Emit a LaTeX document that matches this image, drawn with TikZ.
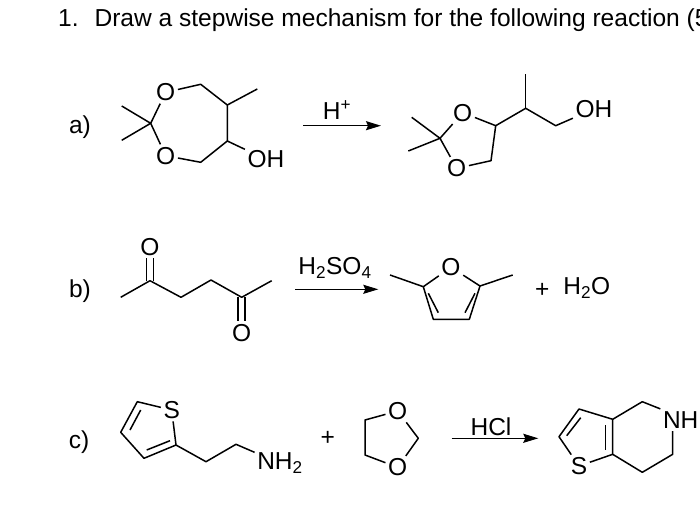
\documentclass[tikz,border=0pt]{standalone}
\usepackage{fontspec}
\setmainfont{Liberation Sans}
\usetikzlibrary{arrows.meta}

\tikzset{
    atom/.style = {inner sep = 2.5pt, font = \fontsize{24.5}{28}\selectfont},
    bond/.style = {line width = 1.5pt, line join = round},
    rxn/.style = {line width = 1.5pt, -{Stealth[length = 15pt, width = 9pt, inset = 2pt]}},
    txt/.style = {inner sep = 0pt, font = \fontsize{24.5}{28}\selectfont}
}

\begin{document}
\begin{tikzpicture}[x = 1pt, y = -1pt]
        \clip (0, 0) rectangle (700, 513) ;

        \node [txt, anchor = base west, font = \fontsize{24.55}{28}\selectfont] (title) at (58, 27) {1. \ Draw a stepwise mechanism for the following reaction (5} ;
        \node [txt] (la) at (80, 127) {a)} ;
        \node [txt] (lb) at (80, 291) {b)} ;
        \node [txt] (lc) at (79, 442) {c)} ;

        % a) reactant
        \node [atom] (oa1) at (165.7, 92.3) {O} ;
        \node [atom] (oa2) at (165.7, 155.7) {O} ;
        \node [atom] (oha) at (266, 159.3) {OH} ;
        \coordinate (ca1) at (150.7, 123.3) ;
        \coordinate (mea1) at (121.7, 106) ;
        \coordinate (mea2) at (121.7, 140.3) ;
        \coordinate (ca2) at (200.7, 84.3) ;
        \coordinate (ca3) at (227.3, 105) ;
        \coordinate (mea3) at (257.3, 89) ;
        \coordinate (ca4) at (227.3, 141) ;
        \coordinate (ca5) at (200.7, 162.3) ;
        \draw [bond] (mea1) -- (ca1) -- (mea2) ;
        \draw [bond] (ca1) -- (oa1) -- (ca2) -- (ca3) -- (ca4) -- (ca5) -- (oa2) -- (ca1) ;
        \draw [bond] (ca3) -- (mea3) ;
        \draw [bond] (ca4) -- (oha) ;

        % a) arrow
        \coordinate (ra1) at (303.3, 125.7) ;
        \coordinate (ra2) at (381, 125.7) ;
        \draw [rxn] (ra1) -- (ra2) ;
        \node [txt] (hplus) at (337, 110) {H\textsuperscript{+}} ;

        % a) product
        \node [atom] (oa3) at (462.7, 112.7) {O} ;
        \node [atom] (oa4) at (456.7, 168.3) {O} ;
        \node [atom] (ohb) at (594, 109) {OH} ;
        \coordinate (cb1) at (440, 138.3) ;
        \coordinate (meb1) at (411.7, 117.3) ;
        \coordinate (meb2) at (408.3, 151) ;
        \coordinate (cb2) at (495.7, 125.7) ;
        \coordinate (cb3) at (491, 160.7) ;
        \coordinate (cb4) at (525.7, 108.3) ;
        \coordinate (meb3) at (525.7, 74) ;
        \coordinate (cb5) at (555.7, 125.7) ;
        \draw [bond] (meb1) -- (cb1) -- (meb2) ;
        \draw [bond] (cb1) -- (oa3) -- (cb2) -- (cb3) -- (oa4) -- (cb1) ;
        \draw [bond] (cb2) -- (cb4) -- (cb5) -- (ohb) ;
        \draw [bond] (cb4) -- (meb3) ;

        % b) reactant
        \node [atom] (ob1) at (150, 246.7) {O} ;
        \node [atom] (ob2) at (241.7, 332.7) {O} ;
        \coordinate (mec1) at (120.7, 297.3) ;
        \coordinate (cc1) at (150, 280.7) ;
        \coordinate (cc2) at (181, 297.3) ;
        \coordinate (cc3) at (211, 280) ;
        \coordinate (cc4) at (241.7, 297.3) ;
        \coordinate (mec2) at (271.7, 280.7) ;
        \draw [bond] (mec1) -- (cc1) -- (cc2) -- (cc3) -- (cc4) -- (mec2) ;
        \draw [bond] ([xshift = -3.5pt] cc1) -- ([xshift = -3.5pt] ob1.south) ;
        \draw [bond] ([xshift = 3.5pt] cc1) -- ([xshift = 3.5pt] ob1.south) ;
        \draw [bond] ([xshift = -3.5pt] cc4) -- ([xshift = -3.5pt] ob2.north) ;
        \draw [bond] ([xshift = 3.5pt] cc4) -- ([xshift = 3.5pt] ob2.north) ;

        % b) arrow
        \coordinate (rb1) at (295, 289.3) ;
        \coordinate (rb2) at (378.3, 289.3) ;
        \draw [rxn] (rb1) -- (rb2) ;
        \node [txt] (sulf) at (335, 268.3) {H\textsubscript{2}SO\textsubscript{4}} ;

        % b) furan
        \node [atom] (ob3) at (451, 267.3) {O} ;
        \coordinate (cd1) at (423.3, 286.7) ;
        \coordinate (cd2) at (433.3, 319.3) ;
        \coordinate (cd3) at (469.3, 319.3) ;
        \coordinate (cd4) at (480, 286) ;
        \coordinate (med1) at (390, 275) ;
        \coordinate (med2) at (512.7, 275) ;
        \coordinate (id1) at (428.3, 293.3) ;
        \coordinate (id2) at (438.3, 312.7) ;
        \coordinate (id3) at (475, 293.3) ;
        \coordinate (id4) at (465, 312.7) ;
        \draw [bond] (med1) -- (cd1) -- (ob3) -- (cd4) -- (med2) ;
        \draw [bond] (cd1) -- (cd2) -- (cd3) -- (cd4) ;
        \draw [bond] (id1) -- (id2) ;
        \draw [bond] (id3) -- (id4) ;
        \node [txt] (plusb) at (542.3, 290) {+} ;
        \node [txt] (water) at (586.7, 288.3) {H\textsubscript{2}O} ;

        % c) amine
        \node [atom] (se1) at (171.7, 410) {S} ;
        \node [atom] (nh2) at (280, 463.3) {NH\textsubscript{2}} ;
        \coordinate (ce1) at (137.3, 401.7) ;
        \coordinate (ce2) at (120.7, 432.3) ;
        \coordinate (ce3) at (144, 458.3) ;
        \coordinate (ce4) at (176, 445) ;
        \coordinate (ce5) at (206, 461.7) ;
        \coordinate (ce6) at (236, 444.3) ;
        \coordinate (ie1) at (140.7, 410) ;
        \coordinate (ie2) at (130, 430) ;
        \coordinate (ie3) at (146.7, 450) ;
        \coordinate (ie4) at (170, 440.7) ;
        \draw [bond] (se1) -- (ce1) -- (ce2) -- (ce3) -- (ce4) -- (se1) ;
        \draw [bond] (ie1) -- (ie2) ;
        \draw [bond] (ie3) -- (ie4) ;
        \draw [bond] (ce4) -- (ce5) -- (ce6) -- (nh2) ;
        \node [txt] (plusc) at (327.7, 438.3) {+} ;

        % c) dioxolane
        \node [atom] (of1) at (397.7, 411) {O} ;
        \node [atom] (of2) at (397.7, 467.3) {O} ;
        \coordinate (cf1) at (365, 420) ;
        \coordinate (cf2) at (365, 455) ;
        \coordinate (cf3) at (418.3, 438.3) ;
        \draw [bond] (of1) -- (cf1) -- (cf2) -- (of2) -- (cf3) -- (of1) ;

        % c) arrow
        \coordinate (rc1) at (451.7, 438.3) ;
        \coordinate (rc2) at (538.3, 438.3) ;
        \draw [rxn] (rc1) -- (rc2) ;
        \node [txt] (hcl) at (491, 426.7) {HCl} ;

        % c) product
        \node [atom] (sg1) at (579, 466) {S} ;
        \node [atom] (nh) at (680.7, 420) {NH} ;
        \coordinate (cg1) at (559, 436.7) ;
        \coordinate (cg2) at (579, 409) ;
        \coordinate (cg3) at (612.7, 419.3) ;
        \coordinate (cg4) at (612.7, 454.3) ;
        \coordinate (cg5) at (642.3, 401.7) ;
        \coordinate (cg6) at (672.7, 454.3) ;
        \coordinate (cg7) at (642.3, 472.3) ;
        \coordinate (ig1) at (566.7, 435.7) ;
        \coordinate (ig2) at (580.7, 417.7) ;
        \coordinate (ig3) at (605.7, 425) ;
        \coordinate (ig4) at (605.7, 450) ;
        \draw [bond] (sg1) -- (cg1) -- (cg2) -- (cg3) -- (cg4) -- (sg1) ;
        \draw [bond] (ig1) -- (ig2) ;
        \draw [bond] (ig3) -- (ig4) ;
        \draw [bond] (cg3) -- (cg5) -- (nh.north west) ;
        \draw [bond] (cg4) -- (cg7) -- (cg6) -- (cg6 |- nh.south) ;
    \end{tikzpicture}
\end{document}
